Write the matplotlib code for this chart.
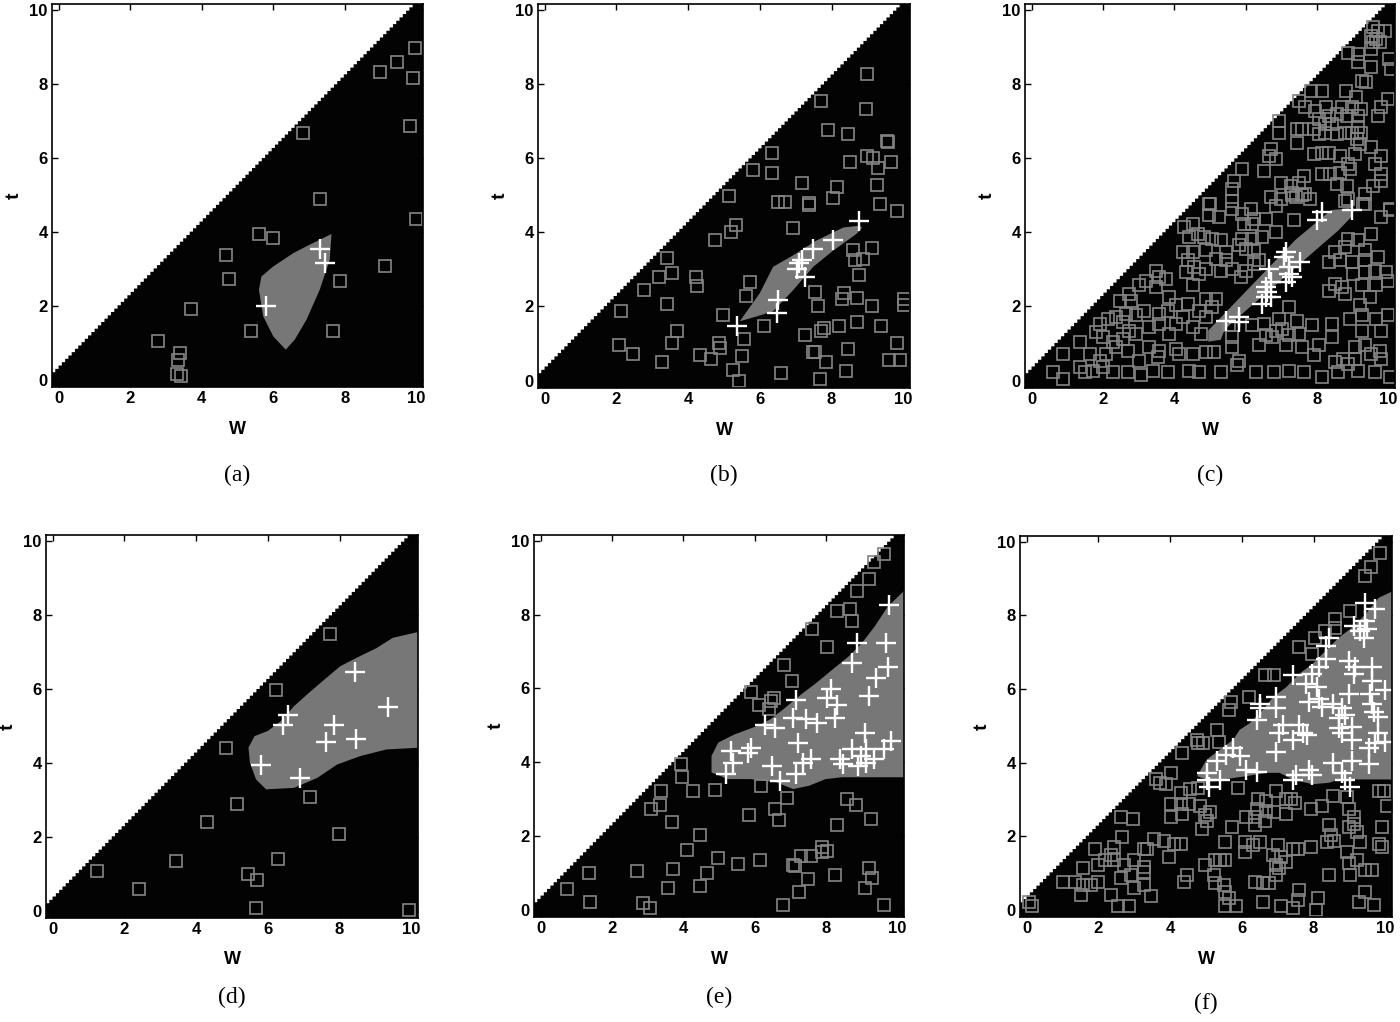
import numpy as np
import matplotlib
matplotlib.use("Agg")
import matplotlib.pyplot as plt

# ---------------- data ----------------
# diagonal boundary of the feasible (black) region: (W, t)
diag_W = [-0.19, 9.9]
diag_t = [0.2, 10.16]

# ---- panel (a)
sq_a = np.array([(9.97, 8.98), (9.46, 8.58), (9.0, 8.33), (9.9, 8.15), (9.84, 6.86), (6.82, 6.68),
                 (7.3, 4.88), (10.0, 4.35), (5.6, 3.94), (6.0, 3.83), (4.68, 3.36), (4.77, 2.72),
                 (9.13, 3.08), (7.86, 2.66), (3.69, 1.91), (5.37, 1.32), (7.67, 1.32), (2.77, 1.04),
                 (3.40, 0.72), (3.33, 0.54), (3.3, 0.15), (3.41, 0.09)])
pl_a = np.array([(5.8, 2.0), (7.32, 3.53), (7.44, 3.15)])
reg_a = np.array([(7.63, 3.94), (7.58, 3.24), (7.3, 2.43), (6.93, 1.62), (6.6, 1.08), (6.35, 0.81),
                  (6.0, 1.17), (5.72, 1.71), (5.6, 2.43), (5.67, 2.79), (6.0, 3.06), (6.56, 3.42),
                  (7.02, 3.65), (7.4, 3.83)])

# ---- panel (b)
sq_b = np.array([(9.0, 8.27), (7.72, 7.53), (8.96, 7.33), (7.91, 6.77), (8.45, 6.65), (9.55, 6.46),
                 (9.57, 6.43), (6.33, 6.13), (9.0, 6.07), (9.16, 6.0), (8.51, 5.89), (9.67, 5.89),
                 (5.8, 5.69), (9.3, 5.73), (6.33, 5.6), (7.18, 5.32), (8.16, 5.23), (9.28, 5.27),
                 (5.14, 4.98), (8.03, 4.92), (6.51, 4.82), (6.7, 4.82), (7.37, 4.8), (7.38, 4.74),
                 (9.35, 4.76), (9.83, 4.58), (5.33, 4.2), (5.19, 4.02), (6.93, 4.11), (4.76, 3.78),
                 (8.6, 3.51), (9.12, 3.58), (8.88, 3.29), (8.65, 3.24), (3.4, 3.31), (3.55, 2.91),
                 (3.19, 2.8), (4.23, 2.8), (4.25, 2.55), (2.77, 2.44), (8.76, 2.84), (5.72, 2.67),
                 (5.61, 2.29), (7.53, 2.38), (3.4, 2.06), (7.63, 2.0), (8.34, 2.36), (8.28, 2.2),
                 (8.7, 2.24), (9.13, 2.0), (10.03, 2.2), (10.03, 2.03), (2.12, 1.88), (4.96, 1.78),
                 (3.69, 1.35), (6.12, 1.47), (7.79, 1.42), (7.72, 1.33), (8.2, 1.47), (8.7, 1.57),
                 (9.37, 1.48), (3.55, 1.02), (4.87, 1.02), (4.88, 0.89), (5.56, 1.13), (7.27, 1.24),
                 (2.06, 0.95), (2.47, 0.71), (4.34, 0.68), (4.65, 0.58), (3.27, 0.49), (5.5, 0.65),
                 (7.49, 0.78), (7.53, 0.78), (8.45, 0.84), (7.86, 0.51), (9.83, 1.02), (9.61, 0.55),
                 (9.9, 0.55), (5.26, 0.28), (5.41, 0.0), (6.58, 0.2), (8.4, 0.27), (7.67, 0.03)])
pl_b = np.array([(5.37, 1.48), (6.51, 2.18), (6.47, 1.82), (7.1, 3.16), (7.19, 3.26), (7.04, 3.0),
                 (7.26, 2.8), (7.47, 3.56), (8.03, 3.8), (8.76, 4.31)])
reg_b = np.array([(5.44, 1.6), (6.0, 2.36), (6.37, 3.07), (6.93, 3.38), (7.58, 3.78), (8.33, 4.13),
                  (8.79, 4.18), (8.85, 4.12), (8.7, 3.96), (8.05, 3.51), (7.49, 3.07), (6.93, 2.44),
                  (6.37, 1.87), (5.91, 1.73)])

# ---- panel (c)
sq_c = np.array([
    (9.58, 9.53), (9.72, 9.44), (9.9, 9.42), (9.52, 9.3), (9.67, 9.21), (9.58, 9.13), (9.77, 9.13),
    (9.53, 8.95), (8.88, 8.83), (9.16, 8.81), (9.16, 8.59), (10.03, 8.68), (9.53, 8.45), (10.07, 8.41),
    (9.26, 8.09), (9.37, 8.05), (7.84, 7.8), (8.14, 7.8), (8.82, 7.8), (9.1, 7.64), (10.0, 7.59),
    (7.5, 7.55), (9.81, 7.37), (7.67, 7.37), (7.95, 7.28), (8.25, 7.39), (8.7, 7.39), (8.97, 7.37),
    (9.23, 7.32), (9.16, 7.14), (9.72, 7.14), (6.93, 7.0), (8.33, 7.14), (8.56, 7.19), (8.05, 7.05),
    (8.84, 7.14), (8.23, 6.92), (8.42, 6.92), (9.16, 6.83), (7.44, 6.78), (7.58, 6.78), (6.93, 6.69),
    (7.91, 6.78), (8.05, 6.65), (8.23, 6.69), (8.56, 6.65), (8.79, 6.69), (8.98, 6.69), (9.24, 6.69),
    (9.12, 6.51), (9.21, 6.38), (7.44, 6.42), (9.53, 6.29), (6.7, 6.24), (6.65, 6.06), (6.84, 5.97),
    (7.91, 6.11), (8.14, 6.15), (8.33, 6.15), (8.65, 6.06), (9.07, 6.11), (9.81, 6.06), (9.63, 5.84),
    (8.88, 5.84), (8.93, 5.7), (5.91, 5.7), (6.51, 5.66), (9.81, 5.57), (7.63, 5.52), (8.14, 5.57),
    (8.37, 5.57), (8.65, 5.61), (5.67, 5.39), (6.98, 5.34), (7.26, 5.25), (7.49, 5.34), (9.81, 5.39),
    (8.56, 5.3), (8.84, 5.25), (9.58, 5.25), (5.63, 5.16), (9.35, 5.03), (7.3, 5.07), (7.67, 5.03),
    (6.7, 4.94), (6.98, 4.89), (7.4, 4.94), (7.81, 4.89), (5.63, 4.85), (4.98, 4.76), (8.79, 4.85),
    (9.35, 4.76), (10.05, 4.62), (6.14, 4.62), (6.84, 4.71),
    (5.0, 4.77), (5.63, 4.64), (7.3, 5.0), (7.58, 5.0), (8.88, 4.91), (9.3, 4.77), (10.05, 4.59),
    (9.81, 4.41), (4.98, 4.46), (5.26, 4.41), (5.91, 4.5), (6.23, 4.37), (6.56, 4.37), (7.35, 4.32),
    (6.19, 4.23), (4.28, 4.14), (4.51, 4.23), (5.95, 4.23), (6.84, 4.01), (4.65, 3.96), (4.42, 3.87),
    (4.84, 3.87), (5.07, 3.83), (5.3, 3.78), (5.91, 3.83), (6.19, 3.83), (6.47, 3.87), (8.88, 3.83),
    (9.16, 3.78), (9.53, 3.96), (5.81, 3.65), (6.0, 3.56), (6.23, 3.51), (4.23, 3.47), (4.51, 3.47),
    (4.88, 3.51), (5.44, 3.47), (8.79, 3.6), (8.51, 3.47), (9.35, 3.51), (4.37, 3.24), (4.56, 3.06),
    (5.16, 3.29), (5.44, 3.24), (6.23, 3.15), (6.37, 3.24), (8.33, 3.2), (8.65, 3.24), (8.98, 3.2),
    (9.35, 3.24), (9.72, 3.33), (4.88, 3.02), (5.3, 2.97), (5.63, 3.02), (6.0, 2.97), (3.49, 2.97),
    (3.21, 2.7), (3.58, 2.79), (3.77, 2.75), (4.33, 2.93), (4.7, 2.88), (9.35, 2.93), (9.63, 2.97),
    (9.95, 2.93), (9.02, 2.88), (5.86, 2.79), (10.0, 2.7), (3.02, 2.57), (3.49, 2.52), (4.51, 2.57),
    (8.51, 2.61), (8.7, 2.52), (9.26, 2.57), (9.67, 2.57), (2.74, 2.34), (2.47, 2.16), (2.79, 2.16),
    (3.86, 2.25), (4.88, 2.21), (5.16, 2.21), (4.05, 2.03), (4.37, 2.07), (9.49, 2.25), (8.79, 2.34),
    (8.33, 2.43), (3.16, 1.89), (3.58, 1.8), (3.81, 1.89), (4.7, 1.89), (5.07, 1.98), (7.21, 1.98),
    (9.21, 2.03), (2.65, 1.8), (2.14, 1.67), (2.37, 1.71), (2.93, 1.76), (4.23, 1.71), (4.88, 1.71),
    (6.93, 1.67), (7.44, 1.62), (8.93, 1.67), (9.26, 1.76), (9.67, 1.67), (10.0, 1.76), (1.91, 1.53),
    (2.56, 1.58), (2.74, 1.35), (3.3, 1.44), (3.58, 1.53), (4.05, 1.53), (4.51, 1.44), (5.53, 1.49),
    (6.19, 1.49), (6.51, 1.53), (6.84, 1.35), (7.02, 1.4), (7.86, 1.49), (8.42, 1.53), (9.26, 1.35),
    (1.81, 1.31), (2.0, 1.17), (2.28, 1.04), (2.56, 1.13), (2.93, 1.26), (3.86, 1.26), (4.74, 1.26),
    (5.63, 1.17), (6.56, 1.22), (6.74, 1.17), (7.21, 1.22), (7.49, 1.26), (8.42, 1.17), (9.81, 1.35),
    (1.35, 1.04), (2.37, 0.9), (2.7, 0.81), (3.3, 0.9), (3.58, 0.81), (4.05, 0.86), (5.63, 0.9),
    (6.37, 0.95), (7.12, 0.95), (7.58, 0.9), (8.05, 0.95), (9.07, 0.9), (9.35, 0.95), (9.53, 0.72),
    (9.77, 0.81), (0.88, 0.72), (1.63, 0.72), (2.09, 0.72), (1.91, 0.54), (3.02, 0.54), (3.53, 0.63),
    (4.14, 0.72), (4.51, 0.72), (4.88, 0.77), (5.12, 0.77), (5.81, 0.54), (7.91, 0.68), (8.51, 0.5),
    (8.74, 0.59), (8.88, 0.45), (9.07, 0.59), (9.81, 0.59), (0.6, 0.23), (0.88, 0.05), (1.35, 0.36),
    (1.49, 0.23), (1.72, 0.27), (2.0, 0.36), (2.28, 0.23), (2.7, 0.23), (3.07, 0.14), (3.4, 0.27),
    (3.81, 0.23), (4.42, 0.27), (4.7, 0.23), (5.3, 0.23), (5.77, 0.41), (6.28, 0.23), (6.79, 0.23),
    (7.21, 0.27), (7.63, 0.23), (8.14, 0.09), (8.6, 0.23), (9.16, 0.27), (9.63, 0.23), (10.05, 0.09)])
pl_c = np.array([(8.14, 4.55), (8.0, 4.32), (8.98, 4.61), (7.12, 3.47), (7.07, 3.33), (7.53, 3.2),
                 (7.21, 3.06), (6.65, 3.02), (7.21, 2.88), (7.3, 2.79), (7.12, 2.66), (6.70, 2.66),
                 (6.56, 2.52), (6.6, 2.39), (6.56, 2.25), (6.7, 2.25), (6.47, 2.07), (5.44, 1.62),
                 (5.81, 1.71), (5.81, 1.58)])
reg_c = np.array([(4.95, 1.05), (5.3, 1.1), (5.4, 1.35), (5.6, 1.55), (6.2, 2.05), (6.8, 2.55),
                  (7.4, 3.05), (8.0, 3.55), (8.6, 4.05), (9.0, 4.45), (8.9, 4.65), (8.4, 4.6),
                  (7.9, 4.2), (7.4, 3.8), (6.9, 3.3), (6.4, 2.8), (5.8, 2.2), (5.3, 1.7), (4.95, 1.35)])

# ---- panel (d)
sq_d = np.array([(7.73, 7.49), (6.23, 5.96), (4.82, 4.39), (5.15, 2.89), (7.19, 3.07), (4.29, 2.4),
                 (7.98, 2.06), (6.27, 1.39), (3.44, 1.34), (1.23, 1.07), (5.45, 0.98), (5.7, 0.83),
                 (2.41, 0.58), (5.68, 0.06), (9.95, 0.02)])
pl_d = np.array([(8.44, 6.45), (9.36, 5.51), (6.55, 5.28), (6.41, 5.01), (7.84, 5.01), (7.61, 4.57),
                 (8.45, 4.65), (5.81, 3.95), (6.9, 3.59)])
reg_d = np.array([(5.46, 4.41), (5.63, 4.72), (6.0, 4.86), (6.37, 5.13), (6.73, 5.53), (7.1, 5.85),
                  (7.47, 6.16), (8.02, 6.61), (8.48, 6.84), (9.03, 7.1), (9.49, 7.38), (10.3, 7.56),
                  (10.3, 4.41), (9.31, 4.36), (8.58, 4.18), (7.93, 3.95), (7.38, 3.59), (6.73, 3.32),
                  (5.95, 3.28), (5.67, 3.55), (5.5, 4.0)])

# ---- panel (e)
sq_e = np.array([(9.63, 9.64), (9.34, 9.42), (9.22, 8.97), (8.86, 8.64), (8.68, 8.16), (8.31, 8.1),
                 (8.74, 7.83), (7.61, 7.6), (8.04, 7.11), (6.83, 6.64), (7.06, 6.19), (5.89, 5.89),
                 (6.12, 5.56), (6.53, 5.74), (6.39, 5.43), (6.47, 5.65), (3.93, 3.95), (3.97, 3.59),
                 (3.38, 3.23), (4.27, 3.23), (4.89, 3.25), (3.1, 2.74), (3.35, 2.84), (6.19, 3.34),
                 (6.91, 3.02), (6.58, 2.74), (6.67, 2.42), (3.68, 2.38), (5.83, 2.57), (8.6, 2.99),
                 (8.84, 2.84), (9.27, 2.45), (8.31, 2.3), (4.47, 2.02), (4.11, 1.61), (4.98, 1.39),
                 (5.53, 1.23), (6.15, 1.35), (4.66, 0.99), (4.47, 0.65), (3.7, 1.1), (2.69, 1.05),
                 (1.34, 0.99), (0.73, 0.57), (3.58, 0.6), (1.37, 0.2), (2.86, 0.18), (3.06, 0.04),
                 (7.08, 1.21), (7.12, 1.17), (7.3, 1.46), (7.58, 1.46), (7.9, 1.7), (8.04, 1.59),
                 (7.9, 1.57), (7.24, 0.49), (7.49, 0.83), (8.26, 0.94), (9.22, 1.12), (9.29, 0.85),
                 (9.09, 0.58), (6.79, 0.13), (9.63, 0.13)])
pl_e = np.array([(9.77, 8.25), (8.86, 7.22), (9.68, 7.22), (8.72, 6.68), (9.73, 6.59), (9.41, 6.28),
                 (8.13, 5.98), (8.04, 5.74), (9.22, 5.8), (7.17, 5.69), (8.31, 5.56), (8.26, 5.2),
                 (7.08, 5.2), (7.44, 5.16), (7.74, 5.07), (6.3, 5.02), (6.58, 4.93), (9.09, 4.8),
                 (7.22, 4.53), (9.82, 4.57), (9.63, 4.35), (5.89, 4.39), (5.34, 4.3), (5.8, 4.26),
                 (8.72, 4.35), (9.13, 4.35), (8.99, 4.17), (7.58, 4.08), (7.35, 3.99), (8.4, 4.08),
                 (8.49, 3.95), (9.13, 3.99), (8.9, 3.9), (5.39, 3.99), (6.49, 3.9), (7.17, 3.68),
                 (5.21, 3.68), (6.71, 3.5), (9.36, 4.08)])
reg_e = np.array([(10.3, 8.75), (9.73, 8.21), (9.36, 7.67), (9.0, 7.22), (8.63, 6.86), (8.17, 6.5),
                  (7.72, 6.14), (7.35, 5.87), (6.8, 5.43), (6.44, 5.16), (6.07, 4.98), (5.43, 4.75),
                  (4.98, 4.53), (4.79, 4.17), (4.79, 3.72), (5.25, 3.54), (5.89, 3.54), (6.62, 3.45),
                  (7.08, 3.27), (7.53, 3.36), (7.99, 3.54), (8.45, 3.59), (10.3, 3.59)])

# ---- panel (f)
sq_f = np.array([
    (9.86, 9.69), (9.61, 9.33), (9.43, 9.06), (9.01, 8.12), (8.6, 7.89), (8.6, 7.67), (8.32, 7.58),
    (8.05, 7.4), (7.59, 7.13), (7.96, 6.95), (6.66, 6.39), (6.89, 6.39), (6.2, 5.78), (5.7, 5.65),
    (5.65, 5.43), (5.3, 4.89), (4.75, 4.62),
    (4.79, 4.53), (4.93, 4.53), (5.35, 4.57), (4.33, 4.26), (4.01, 3.72), (3.73, 3.45), (3.87, 3.41),
    (3.6, 3.54), (4.29, 3.18), (4.56, 3.27), (4.79, 3.32), (4.01, 2.87), (4.29, 2.87), (4.52, 2.87),
    (4.84, 2.83), (5.12, 2.65), (4.98, 2.56), (4.33, 2.6), (4.01, 2.51), (5.02, 2.42), (4.88, 2.2),
    (5.9, 3.32), (6.45, 3.0), (6.68, 2.96), (6.96, 3.23), (7.23, 3.0), (7.37, 3.0), (7.47, 2.91),
    (6.41, 2.74), (6.68, 2.69), (6.91, 2.65), (6.36, 2.51), (6.13, 2.51), (6.36, 2.29), (6.64, 2.42),
    (7.23, 2.6), (7.93, 2.74), (8.25, 2.83), (8.53, 3.09), (8.94, 3.05), (8.99, 2.74), (9.12, 2.51),
    (9.12, 2.33), (9.22, 2.11), (8.99, 2.24), (9.82, 3.23), (9.96, 3.23), (10.05, 2.83), (9.91, 2.24),
    (8.44, 2.29), (8.48, 2.02), (8.39, 1.84), (8.57, 1.88), (9.31, 1.84), (9.82, 1.79), (9.91, 1.7),
    (8.94, 1.57), (9.22, 1.35), (8.99, 1.26), (9.45, 1.08), (9.63, 1.08), (9.03, 0.94), (8.44, 0.94),
    (9.45, 0.49), (9.26, 0.22), (9.68, 0.13), (8.12, 0.31), (8.07, 0.0), (7.6, 0.54), (7.56, 0.27),
    (7.1, 0.09), (7.42, 0.04), (6.59, 0.22), (6.59, 0.72), (6.77, 0.72), (6.96, 0.94), (7.05, 1.12),
    (6.96, 1.21), (7.23, 1.3), (7.1, 1.43), (6.87, 1.48), (7.0, 1.75), (6.5, 1.84), (6.09, 1.84),
    (6.31, 1.75), (6.09, 1.57), (6.36, 0.76), (5.53, 1.84), (5.72, 2.24), (5.25, 1.35), (5.39, 1.35),
    (5.53, 1.35), (4.98, 1.21), (5.21, 0.94), (5.25, 0.72), (5.49, 0.67), (5.53, 0.49), (5.63, 0.31),
    (5.85, 0.09), (5.53, 0.09), (4.47, 0.94), (4.38, 0.76), (7.42, 1.66), (7.56, 1.66), (7.93, 1.7),
    (3.46, 0.36), (3.0, 0.58), (3.27, 0.67), (2.63, 0.85), (2.9, 0.94), (3.27, 1.03), (3.27, 1.17),
    (3.0, 1.35), (2.72, 1.21), (2.44, 1.35), (2.17, 1.35), (1.98, 1.21), (1.98, 0.76), (1.8, 0.67),
    (1.57, 0.67), (1.52, 0.4), (1.34, 0.76), (1.01, 0.76), (1.57, 1.12), (1.89, 1.66), (2.35, 1.48),
    (2.44, 1.7), (2.67, 1.97), (2.63, 2.51), (2.95, 2.47), (3.27, 1.66), (3.36, 1.66), (3.55, 1.93),
    (3.82, 1.88), (4.1, 1.79), (4.29, 1.79), (3.96, 1.43), (2.35, 0.4), (2.54, 0.09), (2.86, 0.09),
    (0.14, 0.09), (0.05, 0.22)])
pl_f = np.array([
    (9.45, 8.35), (9.72, 8.18), (9.12, 7.71), (9.45, 7.85), (9.31, 7.58), (9.49, 7.62), (9.4, 7.4),
    (8.43, 7.4), (8.34, 7.17), (8.34, 6.82), (8.16, 6.59), (8.99, 6.77), (9.17, 6.59), (9.63, 6.59),
    (9.12, 6.41), (7.42, 6.37), (7.97, 6.41), (7.79, 6.14), (8.11, 6.05), (8.99, 5.87), (9.63, 6.23),
    (10.0, 5.96), (9.58, 5.87), (6.96, 5.78), (6.5, 5.6), (6.96, 5.47), (6.5, 5.47), (7.88, 5.65),
    (8.16, 5.74), (8.25, 5.52), (8.53, 5.6), (8.8, 5.47), (9.63, 5.6), (9.68, 5.38), (6.41, 5.16),
    (7.14, 5.02), (7.6, 5.02), (8.71, 5.2), (8.89, 5.29), (9.81, 5.25), (9.08, 4.98), (8.71, 4.93),
    (7.7, 4.8), (9.81, 4.8),
    (7.05, 4.8), (7.83, 4.76), (7.42, 4.62), (8.8, 4.8), (9.08, 4.62), (9.72, 4.53), (10.0, 4.57),
    (9.54, 4.39), (5.76, 4.39), (5.57, 4.21), (5.94, 4.17), (6.96, 4.3), (5.3, 4.04), (6.13, 3.8),
    (6.41, 3.75), (9.08, 4.04), (9.54, 3.95), (8.53, 3.99), (7.88, 3.8), (7.97, 3.66), (7.51, 3.66),
    (7.42, 3.52), (8.8, 3.71), (8.89, 3.52), (9.03, 3.34), (5.02, 3.52), (5.39, 3.52), (5.07, 3.34),
    (5.02, 3.71)])
reg_f = np.array([(10.3, 8.7), (9.82, 8.48), (9.45, 8.03), (9.08, 7.67), (8.71, 7.4), (8.34, 7.04),
                  (7.97, 6.68), (7.6, 6.41), (7.24, 6.05), (6.87, 5.78), (6.59, 5.43), (6.22, 5.07),
                  (5.94, 4.89), (5.76, 4.62), (5.39, 4.35), (5.02, 4.08), (4.75, 3.63), (5.02, 3.54),
                  (5.48, 3.54), (6.13, 3.63), (6.68, 3.72), (7.05, 3.72), (7.42, 3.54), (7.97, 3.41),
                  (8.43, 3.45), (8.71, 3.54), (10.3, 3.54)])

panels = [
    ("(a)", sq_a, pl_a, reg_a),
    ("(b)", sq_b, pl_b, reg_b),
    ("(c)", sq_c, pl_c, reg_c),
    ("(d)", sq_d, pl_d, reg_d),
    ("(e)", sq_e, pl_e, reg_e),
    ("(f)", sq_f, pl_f, reg_f),
]
tick_vals = [0, 2, 4, 6, 8, 10]

# ---------------- layout (pixel boxes: left, top, right, bottom) ----------------
W_PX, H_PX = 1400, 1022
boxes = [(52, 4, 423, 387), (538, 4, 910, 388), (1025, 4, 1395, 388),
         (46, 535, 418, 918), (534, 535, 904, 917), (1020, 536, 1392, 917)]
panel_label_y = [475, 475, 475, 997, 997, 1003]

fig = plt.figure(figsize=(W_PX / 100, H_PX / 100), dpi=100)
fig.patch.set_facecolor("white")

XL = (-0.19, 10.19)
YL = (-0.2, 10.16)
BLACK = "#030303"
GRAY = "#777777"
SQ = "#858585"

# pixelated (stair-step) rendering of the diagonal boundary, like the raster original
n_steps = 110
step_x = np.linspace(diag_W[0], diag_W[1], n_steps + 1)
step_y = np.interp(step_x, diag_W, diag_t)
stair_x = np.repeat(step_x, 2)[1:]
stair_y = np.repeat(step_y, 2)[:-1]

for (name, sq, pl, reg), (l, t, r, b), ly in zip(panels, boxes, panel_label_y):
    ax = fig.add_axes([l / W_PX, 1 - b / H_PX, (r - l) / W_PX, (b - t) / H_PX])
    ax.set_xlim(*XL)
    ax.set_ylim(*YL)
    # black feasible region below the diagonal
    poly_x = np.concatenate([[XL[0] - 0.5, XL[0] - 0.5], stair_x, [XL[1] + 0.5, XL[1] + 0.5]])
    poly_y = np.concatenate([[YL[0] - 0.5, diag_t[0]], stair_y, [YL[1] + 0.5, YL[0] - 0.5]])
    ax.fill(poly_x, poly_y, color=BLACK, lw=0, zorder=1)
    # gray region
    ax.fill(reg[:, 0], reg[:, 1], color=GRAY, lw=0, zorder=2)
    # squares and pluses
    ax.plot(sq[:, 0], sq[:, 1], ls="none", marker="s", ms=8.2, mfc="none",
            mec=SQ, mew=1.2, zorder=3, clip_on=True)
    ax.plot(pl[:, 0], pl[:, 1], ls="none", marker="+", ms=14, mec="white",
            mew=1.7, zorder=4, clip_on=True)
    ax.set_xticks(tick_vals)
    ax.set_yticks(tick_vals)
    ax.set_xticklabels([str(v) for v in tick_vals])
    ax.set_yticklabels([str(v) for v in tick_vals])
    ax.tick_params(direction="in", top=True, right=True, length=4, width=1,
                   labelsize=12, pad=3, colors="black")
    for lab in ax.get_xticklabels() + ax.get_yticklabels():
        lab.set_fontfamily("Liberation Sans")
        lab.set_fontweight("bold")
    for sp in ax.spines.values():
        sp.set_linewidth(1.2)
        sp.set_zorder(5)
    cx = (l + r) / 2
    fig.text(cx / W_PX, 1 - (b + 42) / H_PX, "W", ha="center", va="center",
             fontsize=13, fontweight="bold", family="Liberation Sans")
    fig.text((l - 38) / W_PX, 1 - ((t + b) / 2) / H_PX, "t", ha="center", va="center",
             fontsize=14, fontweight="bold", family="Liberation Sans", rotation=90)
    fig.text(cx / W_PX, 1 - ly / H_PX, name, ha="center", va="center",
             fontsize=17, family="Liberation Serif")

fig.savefig("out.png", dpi=100, facecolor="white")
